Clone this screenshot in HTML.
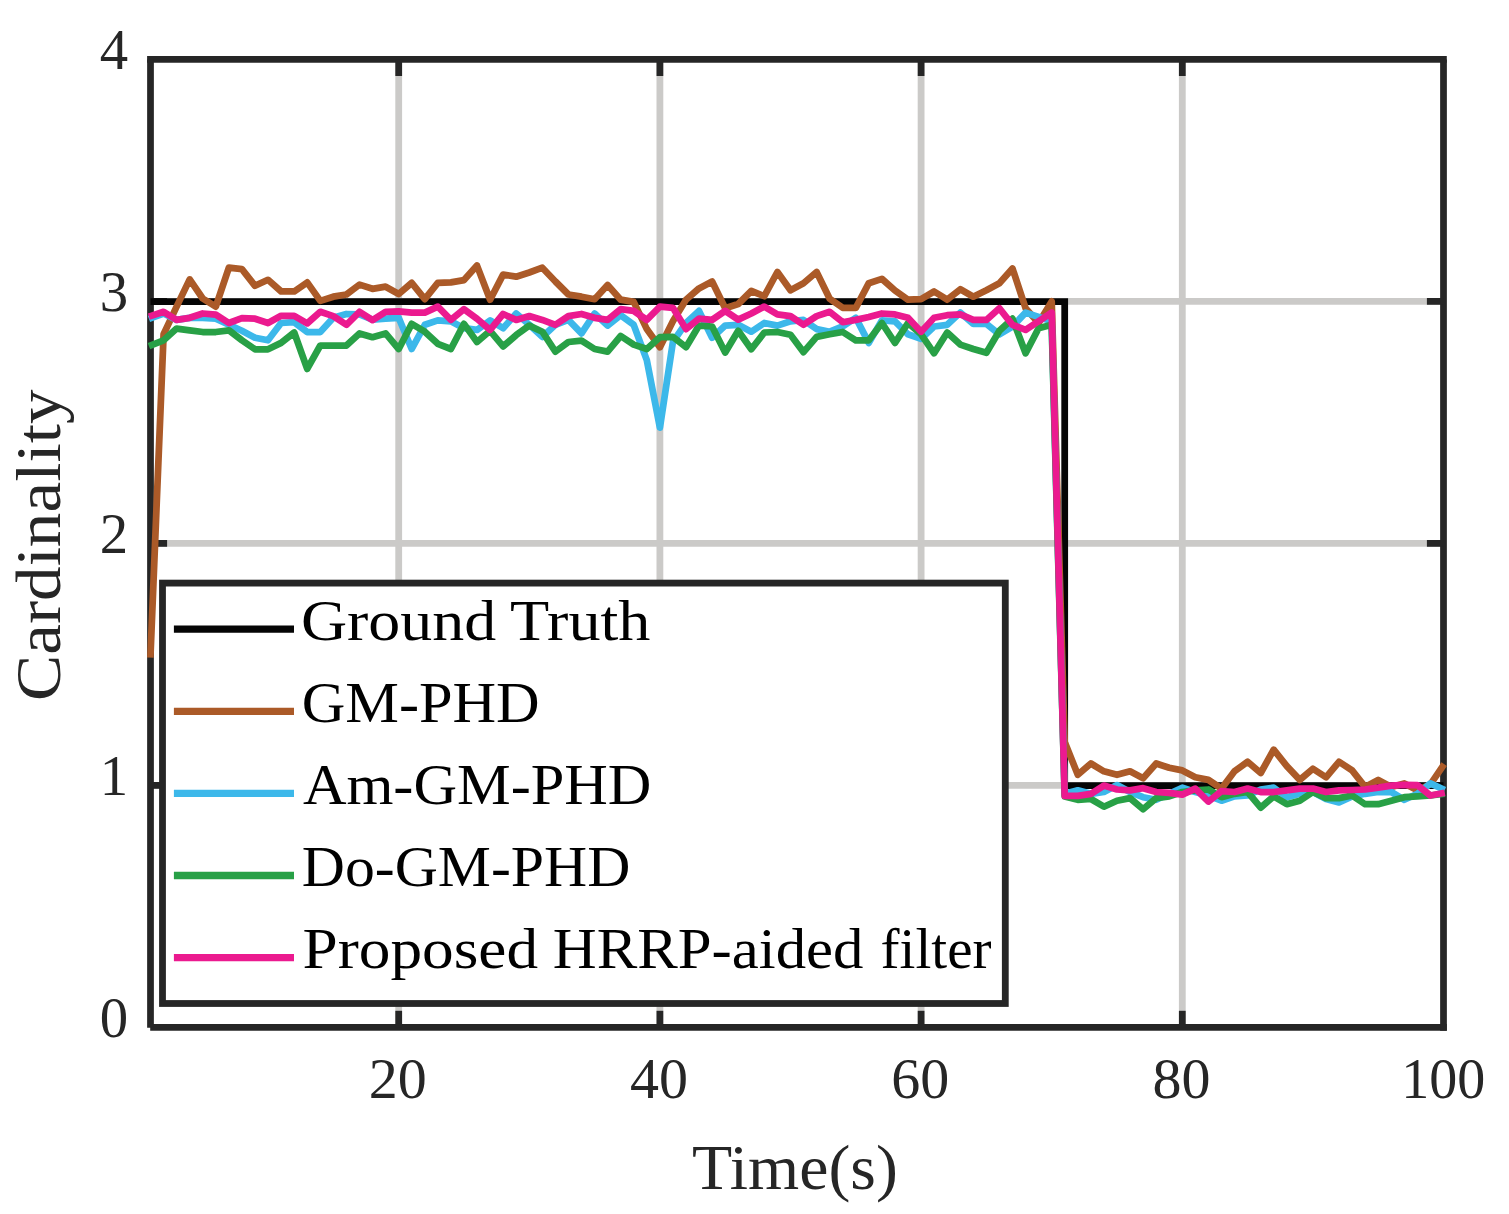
<!DOCTYPE html>
<html lang="en"><head><meta charset="utf-8"><title>Cardinality</title>
<style>html,body{margin:0;padding:0;background:#fff}svg{display:block}text{font-family:"Liberation Serif",serif}</style>
</head><body>
<svg width="1509" height="1214" viewBox="0 0 1509 1214">
<rect width="1509" height="1214" fill="#fff"/>
<g stroke="#cbcac8" stroke-width="6.8" fill="none">
<line x1="398.7" y1="59.4" x2="398.7" y2="1027.4"/>
<line x1="659.9" y1="59.4" x2="659.9" y2="1027.4"/>
<line x1="921.1" y1="59.4" x2="921.1" y2="1027.4"/>
<line x1="1182.3" y1="59.4" x2="1182.3" y2="1027.4"/>
<line x1="150.5" y1="785.4" x2="1443.5" y2="785.4"/>
<line x1="150.5" y1="543.4" x2="1443.5" y2="543.4"/>
<line x1="150.5" y1="301.4" x2="1443.5" y2="301.4"/>
</g>
<g stroke="#262626" stroke-width="6.75" fill="none">
<line x1="150.2" y1="1027.4" x2="1446.8" y2="1027.4"/>
<line x1="147.1" y1="59.4" x2="1446.8" y2="59.4"/>
<line x1="150.5" y1="1027.7" x2="150.5" y2="59.4"/>
<line x1="1443.5" y1="1030.7" x2="1443.5" y2="59.4"/>
<line x1="398.7" y1="1027.4" x2="398.7" y2="1010.8"/>
<line x1="398.7" y1="59.4" x2="398.7" y2="76.0"/>
<line x1="659.9" y1="1027.4" x2="659.9" y2="1010.8"/>
<line x1="659.9" y1="59.4" x2="659.9" y2="76.0"/>
<line x1="921.1" y1="1027.4" x2="921.1" y2="1010.8"/>
<line x1="921.1" y1="59.4" x2="921.1" y2="76.0"/>
<line x1="1182.3" y1="1027.4" x2="1182.3" y2="1010.8"/>
<line x1="1182.3" y1="59.4" x2="1182.3" y2="76.0"/>
<line x1="150.5" y1="785.4" x2="167.1" y2="785.4"/>
<line x1="1443.5" y1="785.4" x2="1426.9" y2="785.4"/>
<line x1="150.5" y1="543.4" x2="167.1" y2="543.4"/>
<line x1="1443.5" y1="543.4" x2="1426.9" y2="543.4"/>
<line x1="150.5" y1="301.4" x2="167.1" y2="301.4"/>
<line x1="1443.5" y1="301.4" x2="1426.9" y2="301.4"/>
</g>
<g fill="none" stroke-width="6.75" stroke-linejoin="round" stroke-linecap="butt">
<polyline stroke="#050505" stroke-linejoin="miter" stroke-linecap="butt" points="150.5,301.6 1064.7,301.6 1064.7,785.6 1443.5,785.6"/>
<polyline stroke="#ab5a28" points="150.4,657.7 163.6,334.3 176.6,306.6 189.7,279.4 202.7,298.5 215.8,306.6 228.9,267.7 241.9,269.1 255.0,285.8 268.0,279.8 281.1,291.4 294.2,291.4 307.2,282.4 320.3,300.9 333.3,296.7 346.4,294.5 359.5,284.6 372.5,288.8 385.6,286.7 398.7,294.0 411.7,282.9 424.8,299.2 437.8,282.9 450.9,282.4 464.0,280.1 477.0,265.6 490.1,299.7 503.1,274.6 516.2,276.7 529.3,272.5 542.3,267.7 555.4,281.5 568.4,294.5 581.5,296.7 594.6,299.2 607.6,285.0 620.7,299.7 633.7,301.9 646.8,329.1 659.9,347.2 672.9,321.3 686.0,299.7 699.0,288.4 712.1,281.5 725.2,308.3 738.2,304.0 751.3,291.0 764.3,296.2 777.4,272.0 790.5,290.2 803.5,283.2 816.6,272.0 829.7,298.8 842.7,307.8 855.8,307.8 868.8,283.2 881.9,278.9 895.0,290.5 908.0,299.7 921.1,299.2 934.1,291.5 947.2,299.7 960.3,289.3 973.3,296.7 986.4,290.2 999.4,283.2 1012.5,268.5 1025.6,308.3 1038.6,323.0 1051.7,301.4 1064.7,741.9 1077.8,774.8 1090.9,763.5 1103.9,771.3 1117.0,774.8 1130.0,771.3 1143.1,778.2 1156.2,763.5 1169.2,767.8 1182.3,770.4 1195.3,777.3 1208.4,779.9 1221.5,788.6 1234.5,771.3 1247.6,761.8 1260.7,773.0 1273.7,749.7 1286.8,766.1 1299.8,779.9 1312.9,768.7 1326.0,777.3 1339.0,761.8 1352.1,770.4 1365.1,786.9 1378.2,779.9 1391.3,786.9 1404.3,783.4 1417.4,790.3 1430.4,784.3 1444.2,764.2"/>
<polyline stroke="#3cb8ea" points="148.9,318.8 163.6,313.5 176.6,319.9 189.7,317.8 202.7,317.8 215.8,318.7 228.9,324.8 241.9,330.8 255.0,337.7 268.0,340.3 281.1,323.0 294.2,322.2 307.2,332.0 320.3,332.0 333.3,317.8 346.4,314.0 359.5,314.4 372.5,319.6 385.6,318.7 398.7,317.8 411.7,349.0 424.8,324.8 437.8,320.4 450.9,321.3 464.0,328.2 477.0,329.9 490.1,320.4 503.1,328.2 516.2,313.5 529.3,324.8 542.3,336.9 555.4,324.8 568.4,319.9 581.5,333.4 594.6,313.5 607.6,325.6 620.7,315.2 633.7,324.8 646.8,360.2 659.9,427.7 672.9,342.0 686.0,323.0 699.0,310.9 712.1,337.7 725.2,325.6 738.2,324.8 751.3,331.7 764.3,323.0 777.4,325.6 790.5,321.3 803.5,319.9 816.6,329.1 829.7,331.7 842.7,326.5 855.8,317.8 868.8,342.9 881.9,320.4 895.0,321.3 908.0,334.3 921.1,338.9 934.1,326.5 947.2,324.8 960.3,312.6 973.3,323.9 986.4,323.9 999.4,334.3 1012.5,326.5 1025.6,312.6 1038.6,317.0 1051.7,321.3 1064.7,793.8 1077.8,790.3 1090.9,793.8 1103.9,792.0 1117.0,785.1 1130.0,792.0 1143.1,797.2 1156.2,799.8 1169.2,793.8 1182.3,787.7 1195.3,792.0 1208.4,795.5 1221.5,800.7 1234.5,796.4 1247.6,795.5 1260.7,789.5 1273.7,787.7 1286.8,797.2 1299.8,793.8 1312.9,792.0 1326.0,799.0 1339.0,802.4 1352.1,796.4 1365.1,793.8 1378.2,792.0 1391.3,792.0 1404.3,799.8 1417.4,793.8 1430.4,783.4 1444.7,790.0"/>
<polyline stroke="#28a046" points="148.9,346.1 163.6,340.3 176.6,328.6 189.7,330.3 202.7,332.0 215.8,332.0 228.9,330.3 241.9,340.3 255.0,349.3 268.0,349.3 281.1,342.9 294.2,332.5 307.2,368.9 320.3,345.5 333.3,345.5 346.4,345.5 359.5,333.4 372.5,337.2 385.6,333.4 398.7,349.0 411.7,323.9 424.8,331.7 437.8,343.8 450.9,349.0 464.0,323.9 477.0,342.0 490.1,330.8 503.1,346.4 516.2,335.1 529.3,325.6 542.3,331.7 555.4,351.6 568.4,342.0 581.5,340.7 594.6,349.0 607.6,351.6 620.7,336.0 633.7,344.6 646.8,349.0 659.9,337.2 672.9,336.9 686.0,347.2 699.0,325.6 712.1,326.5 725.2,352.4 738.2,330.8 751.3,349.3 764.3,332.5 777.4,332.0 790.5,334.8 803.5,352.1 816.6,336.9 829.7,334.3 842.7,332.0 855.8,340.3 868.8,340.3 881.9,323.0 895.0,342.9 908.0,323.0 921.1,334.3 934.1,353.3 947.2,332.5 960.3,344.6 973.3,349.0 986.4,352.8 999.4,330.8 1012.5,318.7 1025.6,353.3 1038.6,328.2 1051.7,324.8 1064.7,796.4 1077.8,799.8 1090.9,799.0 1103.9,806.7 1117.0,800.7 1130.0,798.1 1143.1,809.3 1156.2,798.1 1169.2,796.4 1182.3,792.0 1195.3,790.3 1208.4,789.5 1221.5,797.2 1234.5,793.8 1247.6,792.0 1260.7,807.6 1273.7,796.4 1286.8,804.2 1299.8,800.7 1312.9,792.0 1326.0,798.1 1339.0,798.1 1352.1,795.5 1365.1,804.2 1378.2,804.2 1391.3,800.7 1404.3,797.2 1417.4,796.4 1430.4,795.5 1444.8,793.6"/>
<polyline stroke="#eb1a8f" points="148.9,316.6 163.6,311.8 176.6,319.9 189.7,317.8 202.7,313.5 215.8,314.7 228.9,323.0 241.9,318.2 255.0,318.7 268.0,323.0 281.1,315.8 294.2,315.8 307.2,323.4 320.3,311.8 333.3,316.1 346.4,324.8 359.5,311.8 372.5,320.1 385.6,311.8 398.7,311.3 411.7,312.6 424.8,312.6 437.8,306.6 450.9,319.9 464.0,309.2 477.0,318.7 490.1,329.9 503.1,314.0 516.2,319.9 529.3,316.1 542.3,319.9 555.4,324.8 568.4,316.1 581.5,314.0 594.6,317.8 607.6,319.9 620.7,309.2 633.7,310.9 646.8,319.9 659.9,306.6 672.9,307.8 686.0,329.1 699.0,318.7 712.1,319.9 725.2,310.9 738.2,319.6 751.3,313.5 764.3,306.6 777.4,314.4 790.5,316.1 803.5,324.8 816.6,316.1 829.7,311.8 842.7,322.2 855.8,319.9 868.8,317.0 881.9,313.5 895.0,314.4 908.0,317.8 921.1,331.7 934.1,317.8 947.2,315.2 960.3,314.4 973.3,319.9 986.4,319.9 999.4,308.3 1012.5,324.8 1025.6,329.9 1038.6,321.3 1051.7,312.6 1064.7,795.9 1077.8,795.9 1090.9,793.8 1103.9,785.6 1117.0,789.5 1130.0,790.3 1143.1,788.2 1156.2,792.0 1169.2,792.9 1182.3,794.6 1195.3,788.6 1208.4,801.6 1221.5,791.2 1234.5,792.0 1247.6,788.6 1260.7,792.0 1273.7,792.0 1286.8,790.3 1299.8,788.6 1312.9,788.6 1326.0,792.0 1339.0,790.3 1352.1,790.0 1365.1,789.5 1378.2,787.7 1391.3,785.6 1404.3,784.8 1417.4,785.1 1430.4,795.5 1444.8,792.7"/>
</g>
<rect x="162.5" y="583.1" width="842.8" height="420.4" fill="#fff" stroke="#262626" stroke-width="6.8"/>
<line x1="173.9" y1="629.2" x2="294" y2="629.2" stroke="#050505" stroke-width="7.3"/>
<line x1="173.9" y1="711.3" x2="294" y2="711.3" stroke="#ab5a28" stroke-width="7.3"/>
<line x1="173.9" y1="793.4" x2="294" y2="793.4" stroke="#3cb8ea" stroke-width="7.3"/>
<line x1="173.9" y1="875.5" x2="294" y2="875.5" stroke="#28a046" stroke-width="7.3"/>
<line x1="173.9" y1="957.6" x2="294" y2="957.6" stroke="#eb1a8f" stroke-width="7.3"/>
<g font-size="57.8" fill="#000">
<text y="640.0" xml:space="preserve"><tspan x="300.9" textLength="195.3" lengthAdjust="spacingAndGlyphs">Ground</tspan> <tspan x="510.1" textLength="140.3" lengthAdjust="spacingAndGlyphs">Truth</tspan></text>
<text y="722.1" xml:space="preserve"><tspan x="301.7" textLength="238.0" lengthAdjust="spacingAndGlyphs">GM-PHD</tspan></text>
<text y="804.2" xml:space="preserve"><tspan x="302.9" textLength="348.5" lengthAdjust="spacingAndGlyphs">Am-GM-PHD</tspan></text>
<text y="886.3" xml:space="preserve"><tspan x="301.8" textLength="328.5" lengthAdjust="spacingAndGlyphs">Do-GM-PHD</tspan></text>
<text y="968.4" xml:space="preserve"><tspan x="302.6" textLength="235.5" lengthAdjust="spacingAndGlyphs">Proposed</tspan> <tspan x="552.8" textLength="310.7" lengthAdjust="spacingAndGlyphs">HRRP-aided</tspan> <tspan x="880.6" textLength="110.9" lengthAdjust="spacingAndGlyphs">filter</tspan></text>
</g>
<g font-size="56.4" fill="#262626">
<text x="128.2" y="1036.9" text-anchor="end" textLength="28.4" lengthAdjust="spacingAndGlyphs">0</text>
<text x="128.2" y="794.9" text-anchor="end" textLength="28.4" lengthAdjust="spacingAndGlyphs">1</text>
<text x="128.2" y="552.9" text-anchor="end" textLength="28.4" lengthAdjust="spacingAndGlyphs">2</text>
<text x="128.2" y="310.9" text-anchor="end" textLength="28.4" lengthAdjust="spacingAndGlyphs">3</text>
<text x="128.2" y="68.9" text-anchor="end" textLength="28.4" lengthAdjust="spacingAndGlyphs">4</text>
<text x="397.8" y="1097.8" text-anchor="middle" textLength="58" lengthAdjust="spacingAndGlyphs">20</text>
<text x="659.0" y="1097.8" text-anchor="middle" textLength="58" lengthAdjust="spacingAndGlyphs">40</text>
<text x="920.2" y="1097.8" text-anchor="middle" textLength="58" lengthAdjust="spacingAndGlyphs">60</text>
<text x="1181.4" y="1097.8" text-anchor="middle" textLength="58" lengthAdjust="spacingAndGlyphs">80</text>
<text x="1443.3" y="1097.8" text-anchor="middle" textLength="84" lengthAdjust="spacingAndGlyphs">100</text>
</g>
<g font-size="62.7" fill="#262626">
<text x="794.9" y="1189" text-anchor="middle" textLength="205.8" lengthAdjust="spacingAndGlyphs">Time(s)</text>
<text transform="translate(59.7,545.2) rotate(-90)" text-anchor="middle" textLength="311.5" lengthAdjust="spacingAndGlyphs">Cardinality</text>
</g>
</svg>
</body></html>
